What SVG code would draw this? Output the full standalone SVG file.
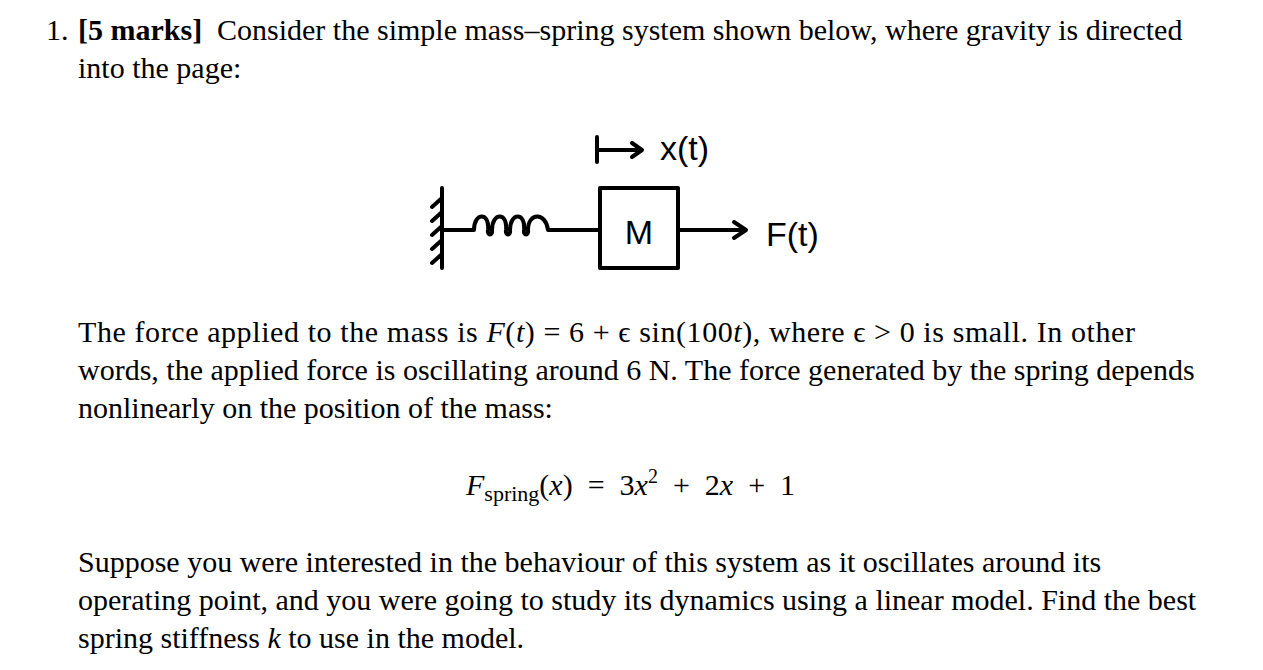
<svg xmlns="http://www.w3.org/2000/svg" width="1263" height="670" viewBox="0 0 1263 670">
<style>
.t{font-family:"Liberation Serif",serif;font-size:30px;fill:#000}
.h{font-family:"Liberation Sans",sans-serif;font-size:34px;fill:#000}
.s{stroke:#000;stroke-width:4;fill:none;stroke-linecap:round;stroke-linejoin:round}
</style>
<rect width="1263" height="670" fill="#fff"/>
<text class="t" x="46" y="40">1.<tspan x="78" font-weight="bold">[5 marks]</tspan><tspan x="217">Consider the simple mass–spring system shown below, where gravity is directed</tspan></text>
<text class="t" x="78" y="78">into the page:</text>
<g id="wall"><path class="s" d="M442 188V268M442 198l-10 9M442 212l-10 9M442 226l-10 9M442 240l-10 9M442 254l-10 9"/></g>
<g id="spring"><path class="s" d="M442 230H474c0-18 16-18 14 0c-1 6 5 6 4 0c0-18 16-18 14 0c-1 6 5 6 4 0c0-18 16-18 14 0c-1 6 5 6 4 0c0-18 18-18 20 0V230H600"/></g>
<g id="mass"><rect class="s" x="600" y="188" width="78" height="80"/><text class="h" x="639" y="244" text-anchor="middle">M</text></g>
<g id="connectors">
<path class="s" d="M678 230H746M734 222l12 8-12 8"/>
<path class="s" d="M597 137V162M597 150H642M632 143l10 7-10 7"/>
</g>
<text class="h" x="660" y="160">x(t)</text>
<text class="h" x="766" y="246">F(t)</text>
<text class="t" x="78" y="342" textLength="1057">The force applied to the mass is <tspan font-style="italic">F</tspan>(<tspan font-style="italic">t</tspan>) = 6 + ϵ sin(100<tspan font-style="italic">t</tspan>), where ϵ &gt; 0 is small. In other</text>
<text class="t" x="78" y="380">words, the applied force is oscillating around 6 N. The force generated by the spring depends</text>
<text class="t" x="78" y="418">nonlinearly on the position of the mass:</text>
<text class="t" x="466" y="495" xml:space="preserve"><tspan font-style="italic">F</tspan><tspan font-size="22" dy="6">spring</tspan><tspan dy="-6">(<tspan font-style="italic">x</tspan>)  =  3<tspan font-style="italic">x</tspan><tspan font-size="20" dy="-12">2</tspan><tspan dy="12">  +  2<tspan font-style="italic">x</tspan>  +  1</tspan></tspan></text>
<text class="t" x="78" y="572">Suppose you were interested in the behaviour of this system as it oscillates around its</text>
<text class="t" x="78" y="610">operating point, and you were going to study its dynamics using a linear model. Find the best</text>
<text class="t" x="78" y="648">spring stiffness <tspan font-style="italic">k</tspan> to use in the model.</text>
</svg>
